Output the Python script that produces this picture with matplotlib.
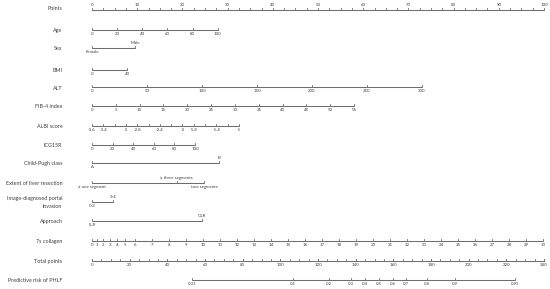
import matplotlib
matplotlib.use("Agg")
import matplotlib.pyplot as plt

plt.rcParams['font.family'] = ['Lato', 'DejaVu Sans']

# ---------------- data (values -> nomogram points) ----------------
points_labels = [0, 10, 20, 30, 40, 50, 60, 70, 80, 90, 100]

age_ticks = [0, 20, 40, 60, 80, 100]
age_range = (0, 100)
age_points_range = (0, 27.8)

sex_levels = ["Female", "Male"]
sex_points = [0, 9.5]

bmi_ticks = [0, 40]
bmi_range = (0, 40)
bmi_points_range = (0, 7.8)

alt_ticks = [0, 50, 100, 150, 200, 250, 300]
alt_range = (0, 300)
alt_points_range = (0, 73.0)

fib4_ticks = [0, 5, 10, 15, 20, 25, 30, 35, 40, 45, 50, 55]
fib4_range = (0, 55)
fib4_points_range = (0, 58.0)

albi_ticks = [-3.6, -3.4, -3.2, -3.0, -2.8, -2.6, -2.4, -2.2, -2.0, -1.8, -1.6, -1.4, -1.2, -1.0]
albi_labels = [-3.6, -3.4, -3.0, -2.8, -2.4, -2.0, -1.8, -1.4, -1.0]
albi_range = (-3.6, -1.0)
albi_points_range = (0, 32.5)

icg_ticks = [0, 20, 40, 60, 80, 100]
icg_range = (0, 100)
icg_points_range = (0, 22.8)

cp_levels = ["A", "B"]
cp_points = [0, 28.1]

ext_levels = ["\u2264 one segment", "\u2265 three segments", "two segments"]
ext_points = [0, 18.7, 24.8]

portal_levels = ["0-2", "3-4"]
portal_points = [0, 4.7]

approach_levels = ["LLR", "OLR"]
approach_points = [0, 24.4]

col_values = list(range(0, 31))
col_points = [0, 1.1, 2.4, 4.0, 5.5, 7.3, 9.5, 13.3, 17.0, 20.8, 24.6, 28.3, 32.1,
              35.8, 39.6, 43.4, 47.1, 50.9, 54.6, 58.4, 62.2, 65.9, 69.7, 73.5,
              77.2, 81.0, 84.7, 88.5, 92.3, 96.0, 99.8]

total_labels = [0, 20, 40, 60, 80, 100, 120, 140, 160, 180, 200, 220, 240]
total_max = 240

risk_values = ["0.01", "0.1", "0.2", "0.3", "0.4", "0.5", "0.6", "0.7", "0.8", "0.9", "0.95"]
risk_total_points = [53.1, 106.7, 125.8, 137.4, 145.0, 152.4, 159.9, 166.8, 177.9, 192.8, 224.6]

# ---------------- layout ----------------
W, H = 550, 289
PX0, PX100 = 92, 544
s = (PX100 - PX0) / 100.0

fig = plt.figure(figsize=(5.5, 2.89), dpi=100)
ax = fig.add_axes([0, 0, 1, 1])
ax.set_xlim(-PX0 / s, (W - PX0) / s)
ax.set_ylim(H, 0)
ax.axis('off')

LINE_C = '#6e6e6e'
TEXT_C = '#404040'
LW = 0.75
TICK = 2.0
TFS = 3.2
RFS = 3.9
NAME_X = (62.5 - PX0) / s


def lin(v, vr, pr):
    return pr[0] + (v - vr[0]) / (vr[1] - vr[0]) * (pr[1] - pr[0])


def hline(y, x0, x1):
    ax.plot([x0, x1], [y, y], color=LINE_C, lw=LW, solid_capstyle='butt')


def ticks(y, xs, length=TICK):
    for x in xs:
        ax.plot([x, x], [y, y - length], color=LINE_C, lw=LW * 0.8)


def tlabel(x, y, text, above=False):
    if above:
        ax.text(x, y - 2.6, text, ha='center', va='bottom', fontsize=TFS, color=TEXT_C)
    else:
        ax.text(x, y + 2.4, text, ha='center', va='top', fontsize=TFS, color=TEXT_C)


def name(y, text):
    ax.text(NAME_X, y + 1, text, ha='right', va='center', fontsize=RFS, color=TEXT_C,
            multialignment='right', linespacing=1.7)


def fmt(v):
    if float(v).is_integer():
        return str(int(v))
    return ("%g" % v)


def cont_axis(y, tick_vals, label_vals, vr, pr):
    xs = [lin(v, vr, pr) for v in tick_vals]
    hline(y, min(xs), max(xs))
    ticks(y, xs)
    for v in label_vals:
        tlabel(lin(v, vr, pr), y, fmt(v))


def cat_axis(y, levels, pts):
    hline(y, min(pts), max(pts))
    ticks(y, pts)
    for i, (lv, p) in enumerate(zip(levels, pts)):
        tlabel(p, y, lv, above=(i % 2 == 1))


# Points
y = 9.5
name(y - 2, "Points")
hline(y, 0, 100)
minor = [i * 2.5 for i in range(41)]
ticks(y, minor, 1.6)
for v in points_labels:
    ax.text(v, y - 2.6, str(v), ha='center', va='bottom', fontsize=TFS, color=TEXT_C)

# Age
y = 29.5
name(y, "Age")
cont_axis(y, age_ticks, age_ticks, age_range, age_points_range)

# Sex
y = 48
name(y, "Sex")
cat_axis(y, sex_levels, sex_points)

# BMI
y = 70
name(y - 1, "BMI")
cont_axis(y, bmi_ticks, bmi_ticks, bmi_range, bmi_points_range)

# ALT
y = 87
name(y, "ALT")
cont_axis(y, alt_ticks, alt_ticks, alt_range, alt_points_range)

# FIB-4
y = 106
name(y, "FIB-4 index")
cont_axis(y, fib4_ticks, fib4_ticks, fib4_range, fib4_points_range)

# ALBI
y = 125.5
name(y, "ALBI score")
cont_axis(y, albi_ticks, albi_labels, albi_range, albi_points_range)

# ICG15R
y = 144.5
name(y, "ICG15R")
cont_axis(y, icg_ticks, icg_ticks, icg_range, icg_points_range)

# Child-Pugh
y = 163
name(y, "Child-Pugh class")
cat_axis(y, cp_levels, cp_points)

# Extent of liver resection
y = 182.5
name(y, "Extent of liver resection")
cat_axis(y, ext_levels, ext_points)

# Portal invasion
y = 202
name(y - 0.5, "Image-diagnosed portal\ninvasion")
cat_axis(y, portal_levels, portal_points)

# Approach
y = 220.5
name(y, "Approach")
cat_axis(y, approach_levels, approach_points)

# 7s collagen
y = 240.5
name(y, "7s collagen")
hline(y, min(col_points), max(col_points))
ticks(y, col_points)
for v, p in zip(col_values, col_points):
    tlabel(p, y, str(v))

# Total points
y = 260.5
name(y, "Total points")
sc = 100.0 / total_max
hline(y, 0, total_max * sc)
ticks(y, [i * 5 * sc for i in range(total_max // 5 + 1)], 1.6)
ticks(y, [v * sc for v in total_labels])
for v in total_labels:
    tlabel(v * sc, y, str(v))

# Risk
y = 279.5
name(y, "Predictive risk of PHLF")
rx = [t * sc for t in risk_total_points]
hline(y, min(rx), max(rx))
ticks(y, rx)
for lab, x in zip(risk_values, rx):
    tlabel(x, y, lab)

fig.savefig("out.png", dpi=100)
